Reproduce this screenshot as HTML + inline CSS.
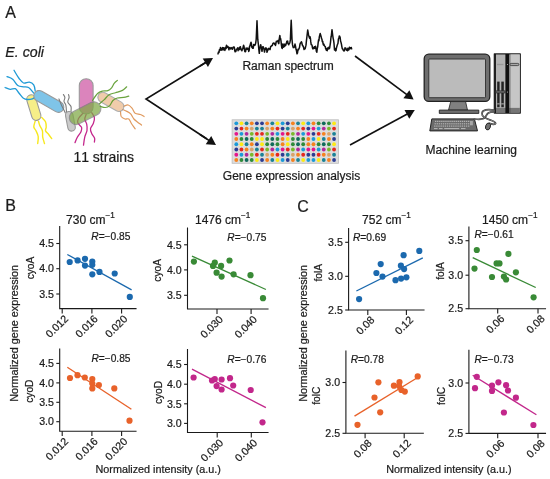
<!DOCTYPE html>
<html><head><meta charset="utf-8"><title>Figure</title>
<style>
html,body{margin:0;padding:0;background:#fff;}
body{width:550px;height:479px;overflow:hidden;}
svg{display:block;font-family:'Liberation Sans', Arial, sans-serif;}
text{stroke:#1c1c1c;stroke-width:0.22px;}
</style></head><body>
<svg width="550" height="479" viewBox="0 0 550 479">
<rect width="550" height="479" fill="#ffffff"/>
<text x="5.2" y="17.6" font-size="16" text-anchor="start" fill="#1c1c1c" >A</text>
<text x="5.3" y="211.1" font-size="16" text-anchor="start" fill="#1c1c1c" >B</text>
<text x="297.3" y="212.3" font-size="16" text-anchor="start" fill="#1c1c1c" >C</text>
<text x="5.3" y="57" font-size="14.2" text-anchor="start" font-style="italic" fill="#1c1c1c" >E. coli</text>
<text x="73.4" y="161.5" font-size="14" text-anchor="start" fill="#1c1c1c" style="font-kerning:none">11 strains</text>
<text x="242.4" y="69.5" font-size="12" text-anchor="start" fill="#1c1c1c" >Raman spectrum</text>
<text x="222.8" y="179.7" font-size="12" text-anchor="start" fill="#1c1c1c" >Gene expression analysis</text>
<text x="425.6" y="153.6" font-size="12" text-anchor="start" fill="#1c1c1c" >Machine learning</text>
<path d="M35.4,120.5 C35.1,121.6 33.7,125.2 33.8,126.9 C33.9,128.6 35.3,129.1 36.0,130.7 C36.7,132.3 37.9,134.4 38.2,136.5 C38.5,138.6 37.8,142.3 37.7,143.5" fill="none" stroke="#f7e81e" stroke-width="1.4" stroke-linecap="round" stroke-linejoin="round"/>
<path d="M38.5,121.2 C38.7,121.9 39.1,124.0 39.8,125.6 C40.4,127.2 41.9,128.8 42.4,130.7 C42.9,132.6 42.4,135.0 42.7,137.1 C43.1,139.2 44.2,142.4 44.5,143.5" fill="none" stroke="#f7e81e" stroke-width="1.4" stroke-linecap="round" stroke-linejoin="round"/>
<path d="M41.7,117.4 C42.3,118.1 44.8,120.2 45.5,121.8 C46.2,123.4 46.2,125.4 46.2,126.9 C46.2,128.4 45.1,129.4 45.5,130.7 C45.9,132.0 47.7,133.2 48.7,134.5 C49.7,135.8 51.2,137.9 51.7,138.6" fill="none" stroke="#f7e81e" stroke-width="1.4" stroke-linecap="round" stroke-linejoin="round"/>
<rect x="-13.10" y="-4.60" width="26.20" height="9.20" rx="4.60" ry="4.60" transform="translate(33.8,107.6) rotate(73)" fill="#f6ee88" fill-opacity="1" stroke="#9a9a9a" stroke-width="1.1"/>
<path d="M14.0,70.3 C14.8,71.7 17.5,76.4 19.1,78.5 C20.7,80.6 21.8,82.4 23.5,83.0 C25.2,83.6 27.6,81.8 29.3,82.1 C31.0,82.4 32.7,83.4 33.7,84.9 C34.7,86.4 35.0,90.0 35.2,91.0" fill="none" stroke="#1f9ad6" stroke-width="1.3" stroke-linecap="round" stroke-linejoin="round"/>
<path d="M7.0,76.6 C8.0,77.0 10.9,77.7 12.7,79.2 C14.5,80.7 16.0,84.2 17.8,85.5 C19.6,86.8 21.7,86.5 23.5,86.8 C25.3,87.1 26.9,86.5 28.6,87.5 C30.3,88.5 32.8,92.1 33.6,93.0" fill="none" stroke="#1f9ad6" stroke-width="1.3" stroke-linecap="round" stroke-linejoin="round"/>
<path d="M5.1,87.5 C5.9,87.8 8.5,89.2 10.2,89.4 C11.9,89.6 13.8,88.1 15.3,88.7 C16.8,89.3 17.7,91.6 19.1,93.2 C20.5,94.8 22.1,97.2 23.5,98.3 C24.9,99.3 25.9,99.4 27.4,99.5 C28.9,99.6 31.3,99.2 32.5,98.9 C33.7,98.6 34.2,97.7 34.5,97.5" fill="none" stroke="#1f9ad6" stroke-width="1.3" stroke-linecap="round" stroke-linejoin="round"/>
<rect x="-16.50" y="-5.40" width="33.00" height="10.80" rx="5.40" ry="5.40" transform="translate(48.8,101.4) rotate(30)" fill="#7fc4e8" fill-opacity="1" stroke="#9a9a9a" stroke-width="1.1"/>
<path d="M65.3,112.9 C64.8,111.8 63.0,108.3 62.1,106.5 C61.2,104.7 60.7,103.4 60.2,102.1 C59.7,100.8 59.1,99.4 58.9,98.9" fill="none" stroke="#7a7a7a" stroke-width="1.1" stroke-linecap="round" stroke-linejoin="round"/>
<path d="M66.5,112.3 C66.4,111.1 66.3,107.1 65.9,105.3 C65.5,103.5 64.2,102.8 64.0,101.5 C63.8,100.2 65.0,98.8 64.9,97.6 C64.8,96.4 63.6,95.0 63.4,94.5" fill="none" stroke="#7a7a7a" stroke-width="1.1" stroke-linecap="round" stroke-linejoin="round"/>
<path d="M71.0,111.6 C71.0,110.8 71.5,108.1 71.0,106.5 C70.5,104.9 68.1,103.6 67.8,102.1 C67.5,100.6 69.0,98.9 69.1,97.6 C69.2,96.3 68.6,95.0 68.5,94.5" fill="none" stroke="#7a7a7a" stroke-width="1.1" stroke-linecap="round" stroke-linejoin="round"/>
<rect x="-9.90" y="-3.75" width="19.80" height="7.50" rx="3.75" ry="3.75" transform="translate(70.4,121.3) rotate(79)" fill="#cbcbcb" fill-opacity="1" stroke="#9a9a9a" stroke-width="1.1"/>
<path d="M123.7,106.3 C124.5,106.1 126.8,104.7 128.2,105.0 C129.6,105.3 130.8,106.8 132.0,108.2 C133.2,109.6 133.8,112.2 135.2,113.3 C136.6,114.3 138.8,114.0 140.3,114.5 C141.8,115.0 143.5,116.2 144.1,116.5" fill="none" stroke="#e09a5e" stroke-width="1.2" stroke-linecap="round" stroke-linejoin="round"/>
<path d="M122.5,109.5 C123.2,109.8 125.5,110.7 126.9,111.4 C128.3,112.1 129.5,112.6 130.7,113.9 C131.9,115.2 132.7,117.6 133.9,119.0 C135.1,120.4 136.4,121.2 137.7,122.2 C139.0,123.2 140.9,124.5 141.5,125.0" fill="none" stroke="#e09a5e" stroke-width="1.2" stroke-linecap="round" stroke-linejoin="round"/>
<path d="M120.5,111.4 C120.6,112.2 120.5,115.2 121.2,116.5 C122.0,117.8 123.7,118.6 125.0,119.0 C126.3,119.4 127.7,118.2 128.8,119.0 C129.9,119.8 130.3,121.9 131.4,123.5 C132.5,125.1 134.6,127.9 135.2,128.8" fill="none" stroke="#e09a5e" stroke-width="1.2" stroke-linecap="round" stroke-linejoin="round"/>
<rect x="-17.60" y="-6.90" width="35.20" height="13.80" rx="6.90" ry="6.90" transform="translate(86.2,96.3) rotate(90)" fill="#db84bc" fill-opacity="1" stroke="#9a9a9a" stroke-width="1.1"/>
<path d="M82.9,113.4 C82.2,114.2 79.3,116.9 78.5,118.5 C77.7,120.1 77.3,121.4 77.8,122.9 C78.3,124.4 81.1,125.9 81.6,127.4 C82.1,128.9 81.7,130.1 81.0,131.8 C80.3,133.5 78.2,135.7 77.2,137.5 C76.2,139.3 75.4,141.8 75.0,142.6" fill="none" stroke="#c4268c" stroke-width="1.3" stroke-linecap="round" stroke-linejoin="round"/>
<path d="M86.1,114.6 C85.9,115.3 84.7,117.5 84.8,119.1 C84.9,120.7 86.3,122.3 86.7,124.2 C87.1,126.1 87.3,128.4 87.0,130.5 C86.7,132.6 85.4,134.5 84.8,136.9 C84.2,139.3 83.7,143.8 83.5,145.2" fill="none" stroke="#c4268c" stroke-width="1.3" stroke-linecap="round" stroke-linejoin="round"/>
<path d="M91.8,112.7 C92.2,113.5 94.2,116.0 94.4,117.8 C94.7,119.6 94.0,121.7 93.3,123.5 C92.6,125.3 90.8,126.9 90.5,128.6 C90.2,130.3 91.1,132.1 91.8,133.7 C92.5,135.3 94.2,136.8 94.6,138.2 C95.0,139.6 94.4,141.4 94.4,142.0" fill="none" stroke="#c4268c" stroke-width="1.3" stroke-linecap="round" stroke-linejoin="round"/>
<g opacity="0.72">
<rect x="-16.90" y="-6.80" width="33.80" height="13.60" rx="6.80" ry="6.80" transform="translate(85.1,113.2) rotate(-26.8)" fill="#7fa945" fill-opacity="1" stroke="#7a7a7a" stroke-width="1.1"/>
</g>
<g opacity="0.8">
<rect x="-14.20" y="-5.00" width="28.40" height="10.00" rx="5.00" ry="5.00" transform="translate(110.9,101.9) rotate(29.8)" fill="#edc097" fill-opacity="1" stroke="#9a9a9a" stroke-width="1.1"/>
</g>
<g opacity="0.9">
<path d="M92.5,100.5 C93.3,99.3 95.9,95.1 97.6,93.5 C99.3,91.9 101.0,91.5 102.7,91.0 C104.4,90.5 106.3,91.1 107.8,90.6 C109.3,90.1 110.5,89.0 111.6,87.8 C112.7,86.6 113.2,84.6 114.2,83.4 C115.2,82.2 116.9,80.9 117.4,80.4" fill="none" stroke="#5a9a2a" stroke-width="1.2" stroke-linecap="round" stroke-linejoin="round"/>
<path d="M99.5,103.7 C100.2,103.1 102.4,101.4 104.0,99.9 C105.6,98.4 107.2,96.0 109.1,94.8 C111.0,93.6 113.3,93.4 115.5,92.7 C117.7,92.0 120.6,91.4 122.5,90.4 C124.4,89.4 126.0,87.4 126.7,86.8" fill="none" stroke="#5a9a2a" stroke-width="1.2" stroke-linecap="round" stroke-linejoin="round"/>
<path d="M100.2,106.3 C101.0,106.5 103.7,107.6 105.3,107.5 C106.9,107.4 108.4,106.8 109.7,105.6 C111.0,104.4 111.6,101.8 112.9,100.5 C114.2,99.2 115.6,98.5 117.4,98.0 C119.2,97.5 121.8,97.7 123.7,97.4 C125.6,97.1 128.0,96.3 128.8,96.1" fill="none" stroke="#5a9a2a" stroke-width="1.2" stroke-linecap="round" stroke-linejoin="round"/>
</g>
<path d="M 206.6,62 L146,99 L 207,139" fill="none" stroke="#111" stroke-width="1.6" stroke-linejoin="miter"/>
<line x1="200" y1="66" x2="206.19" y2="62.19" stroke="#111" stroke-width="1.6"/>
<polygon points="213.00,58.00 207.96,66.98 202.71,58.46" fill="#111"/>
<line x1="200" y1="134.5" x2="209.31" y2="140.61" stroke="#111" stroke-width="1.6"/>
<polygon points="216.00,145.00 205.73,144.24 211.22,135.88" fill="#111"/>
<line x1="355" y1="56" x2="407.18" y2="94.82" stroke="#111" stroke-width="1.6"/>
<polygon points="413.60,99.60 403.39,98.24 409.36,90.22" fill="#111"/>
<line x1="350" y1="145" x2="407.76" y2="113.80" stroke="#111" stroke-width="1.6"/>
<polygon points="414.80,110.00 409.26,118.68 404.51,109.88" fill="#111"/>
<path d="M218.00,53.90 L218.50,52.06 L219.00,52.51 L219.38,49.80 L219.75,50.62 L220.12,49.29 L220.50,47.50 L221.00,50.03 L221.50,49.43 L221.88,50.12 L222.25,48.24 L222.62,47.66 L223.00,48.14 L223.38,49.79 L223.75,47.67 L224.12,48.28 L224.50,49.93 L224.88,50.40 L225.25,48.51 L225.62,47.27 L226.00,48.62 L226.50,45.16 L227.00,47.62 L227.40,46.33 L227.80,46.49 L228.20,47.05 L228.60,48.35 L228.95,49.82 L229.30,47.41 L229.65,48.53 L230.00,48.47 L230.38,47.94 L230.75,48.91 L231.12,47.64 L231.50,48.00 L231.92,48.08 L232.33,49.28 L232.75,48.00 L233.17,47.20 L233.58,47.71 L234.00,46.84 L234.38,47.69 L234.75,50.75 L235.12,51.80 L235.50,51.63 L235.93,51.15 L236.37,49.39 L236.80,48.98 L237.23,48.93 L237.65,47.88 L238.07,50.68 L238.50,48.20 L238.88,48.85 L239.25,49.62 L239.62,47.19 L240.00,47.96 L240.38,46.73 L240.77,49.17 L241.15,49.80 L241.53,49.45 L241.92,50.78 L242.30,49.17 L242.73,48.86 L243.17,46.92 L243.60,45.27 L244.03,46.55 L244.45,49.56 L244.88,51.61 L245.30,51.71 L245.70,51.26 L246.10,48.11 L246.50,49.19 L246.90,48.50 L247.30,49.18 L247.70,48.09 L248.20,48.67 L248.70,51.41 L249.13,50.44 L249.57,46.31 L250.00,45.87 L250.50,43.67 L251.00,42.30 L251.38,43.45 L251.75,47.21 L252.12,46.39 L252.50,48.14 L252.88,47.63 L253.25,48.26 L253.62,44.57 L254.00,44.83 L254.40,44.70 L254.80,45.37 L255.20,44.69 L255.70,43.04 L256.20,39.25 L256.60,30.35 L257.00,20.70 L257.40,30.35 L257.80,39.71 L258.40,44.52 L258.85,49.71 L259.30,53.36 L259.77,48.58 L260.23,46.63 L260.70,44.79 L261.13,46.56 L261.57,49.18 L262.00,51.30 L262.40,48.86 L262.80,46.65 L263.20,46.72 L263.63,47.72 L264.07,49.56 L264.50,52.04 L264.93,50.15 L265.37,48.55 L265.80,47.90 L266.20,49.27 L266.60,48.32 L267.00,52.36 L267.43,50.95 L267.87,50.27 L268.30,49.01 L268.73,48.30 L269.17,48.99 L269.60,48.65 L270.07,49.69 L270.53,46.98 L271.00,46.23 L271.43,46.14 L271.87,45.42 L272.30,45.46 L272.73,43.91 L273.17,43.17 L273.60,43.11 L274.07,43.18 L274.53,44.30 L275.00,43.39 L275.43,45.44 L275.87,43.72 L276.30,41.31 L276.77,41.36 L277.23,41.38 L277.70,41.14 L278.07,40.45 L278.43,43.05 L278.80,43.68 L279.30,38.63 L279.80,35.50 L280.20,37.71 L280.60,38.63 L281.00,40.95 L281.40,44.81 L281.80,47.60 L282.20,48.55 L282.60,45.32 L283.00,43.88 L283.38,47.26 L283.75,46.05 L284.12,44.97 L284.50,46.55 L284.88,43.94 L285.25,44.80 L285.62,45.48 L286.00,44.24 L286.43,43.20 L286.87,41.25 L287.30,41.15 L287.67,41.10 L288.03,43.79 L288.40,43.61 L288.77,44.72 L289.13,43.45 L289.50,43.36 L289.95,42.21 L290.40,39.65 L290.80,29.10 L291.20,20.20 L291.60,29.10 L292.00,39.20 L292.50,44.64 L292.87,46.28 L293.23,47.62 L293.60,47.47 L294.07,47.56 L294.53,46.11 L295.00,44.10 L295.50,46.24 L296.00,49.25 L296.50,50.78 L297.00,53.85 L297.50,52.90 L298.00,49.32 L298.50,49.74 L299.00,48.66 L299.47,47.55 L299.93,44.54 L300.40,43.05 L300.75,42.65 L301.10,42.12 L301.45,41.72 L301.80,42.72 L302.27,44.89 L302.73,45.92 L303.20,45.93 L303.63,47.79 L304.07,49.55 L304.50,48.39 L304.88,48.97 L305.25,48.44 L305.62,46.63 L306.00,45.15 L306.50,40.08 L307.00,36.00 L307.35,33.00 L307.70,30.00 L308.13,32.50 L308.57,35.00 L309.00,36.41 L309.50,38.13 L310.00,36.80 L310.40,38.28 L310.80,41.92 L311.20,44.55 L311.60,44.65 L312.05,45.41 L312.50,48.02 L312.95,48.91 L313.40,48.68 L313.83,47.60 L314.27,46.75 L314.70,48.38 L315.13,48.28 L315.57,46.26 L316.00,48.81 L316.40,51.38 L316.80,52.33 L317.27,48.56 L317.73,46.50 L318.20,42.35 L318.57,39.75 L318.93,40.80 L319.30,37.00 L319.75,35.20 L320.20,33.40 L320.70,35.20 L321.20,37.00 L321.57,38.58 L321.93,39.22 L322.30,41.67 L322.70,41.21 L323.10,43.94 L323.50,45.03 L323.90,44.18 L324.30,45.56 L324.80,46.25 L325.30,46.62 L325.67,48.79 L326.03,48.68 L326.40,50.22 L326.80,48.62 L327.20,50.64 L327.60,48.13 L328.00,47.86 L328.36,48.08 L328.72,48.97 L329.08,47.13 L329.44,48.62 L329.80,47.01 L330.17,44.61 L330.53,42.08 L330.90,37.86 L331.27,36.23 L331.63,32.97 L332.00,29.70 L332.40,32.85 L332.80,36.00 L333.15,38.30 L333.50,39.92 L334.00,43.31 L334.50,50.02 L334.88,48.26 L335.25,49.66 L335.62,50.89 L336.00,50.69 L336.50,47.66 L337.00,46.06 L337.50,44.34 L338.00,43.27 L338.43,38.86 L338.87,38.31 L339.30,36.00 L339.75,36.39 L340.20,37.74 L340.60,41.33 L341.00,42.33 L341.43,44.18 L341.85,46.53 L342.27,48.73 L342.70,48.81 L343.13,50.05 L343.57,50.35 L344.00,51.04 L344.50,50.16 L345.00,47.84 L345.50,48.31 L346.00,48.33 L346.38,50.13 L346.75,49.53 L347.12,50.36 L347.50,50.80 L347.88,48.23 L348.25,49.00 L348.62,50.06 L349.00,49.46 L349.38,47.29 L349.75,47.46 L350.12,48.78 L350.50,47.75 L350.87,48.18 L351.23,47.48 L351.60,48.80" fill="none" stroke="#111" stroke-width="1.5" stroke-linejoin="round" stroke-linecap="round"/>
<rect x="232.1" y="119.8" width="106.4" height="43.5" fill="#dddddd" stroke="#bcbcbc" stroke-width="0.8"/>
<circle cx="236.30" cy="123.30" r="1.9" fill="#1b9ad8"/>
<circle cx="241.45" cy="123.30" r="1.9" fill="#fdea14"/>
<circle cx="246.59" cy="123.30" r="1.9" fill="#1a8296"/>
<circle cx="251.74" cy="123.30" r="1.9" fill="#f5821f"/>
<circle cx="256.88" cy="123.30" r="1.9" fill="#2c3c93"/>
<circle cx="262.03" cy="123.30" r="1.9" fill="#2c3c93"/>
<circle cx="267.17" cy="123.30" r="1.9" fill="#f5821f"/>
<circle cx="272.31" cy="123.30" r="1.9" fill="#1a8296"/>
<circle cx="277.46" cy="123.30" r="1.9" fill="#fdea14"/>
<circle cx="282.61" cy="123.30" r="1.9" fill="#1b9ad8"/>
<circle cx="287.75" cy="123.30" r="1.9" fill="#2c3c93"/>
<circle cx="292.89" cy="123.30" r="1.9" fill="#f5821f"/>
<circle cx="298.04" cy="123.30" r="1.9" fill="#1a8296"/>
<circle cx="303.19" cy="123.30" r="1.9" fill="#fdea14"/>
<circle cx="308.33" cy="123.30" r="1.9" fill="#1b9ad8"/>
<circle cx="313.48" cy="123.30" r="1.9" fill="#f5821f"/>
<circle cx="318.62" cy="123.30" r="1.9" fill="#2e8b3a"/>
<circle cx="323.76" cy="123.30" r="1.9" fill="#106b5a"/>
<circle cx="328.91" cy="123.30" r="1.9" fill="#2e8b3a"/>
<circle cx="334.06" cy="123.30" r="1.9" fill="#fdea14"/>
<circle cx="236.30" cy="128.54" r="1.9" fill="#2c3c93"/>
<circle cx="241.45" cy="128.54" r="1.9" fill="#e6281e"/>
<circle cx="246.59" cy="128.54" r="1.9" fill="#f5821f"/>
<circle cx="251.74" cy="128.54" r="1.9" fill="#d9a36a"/>
<circle cx="256.88" cy="128.54" r="1.9" fill="#1a8296"/>
<circle cx="262.03" cy="128.54" r="1.9" fill="#1a8296"/>
<circle cx="267.17" cy="128.54" r="1.9" fill="#d9a36a"/>
<circle cx="272.31" cy="128.54" r="1.9" fill="#f5821f"/>
<circle cx="277.46" cy="128.54" r="1.9" fill="#e6281e"/>
<circle cx="282.61" cy="128.54" r="1.9" fill="#2c3c93"/>
<circle cx="287.75" cy="128.54" r="1.9" fill="#1a8296"/>
<circle cx="292.89" cy="128.54" r="1.9" fill="#d9a36a"/>
<circle cx="298.04" cy="128.54" r="1.9" fill="#f5821f"/>
<circle cx="303.19" cy="128.54" r="1.9" fill="#e6281e"/>
<circle cx="308.33" cy="128.54" r="1.9" fill="#2c3c93"/>
<circle cx="313.48" cy="128.54" r="1.9" fill="#e5168c"/>
<circle cx="318.62" cy="128.54" r="1.9" fill="#1b9ad8"/>
<circle cx="323.76" cy="128.54" r="1.9" fill="#b1289b"/>
<circle cx="328.91" cy="128.54" r="1.9" fill="#7ab82b"/>
<circle cx="334.06" cy="128.54" r="1.9" fill="#e6281e"/>
<circle cx="236.30" cy="133.78" r="1.9" fill="#e5168c"/>
<circle cx="241.45" cy="133.78" r="1.9" fill="#1b9ad8"/>
<circle cx="246.59" cy="133.78" r="1.9" fill="#b1289b"/>
<circle cx="251.74" cy="133.78" r="1.9" fill="#7ab82b"/>
<circle cx="256.88" cy="133.78" r="1.9" fill="#e6281e"/>
<circle cx="262.03" cy="133.78" r="1.9" fill="#e6281e"/>
<circle cx="267.17" cy="133.78" r="1.9" fill="#7ab82b"/>
<circle cx="272.31" cy="133.78" r="1.9" fill="#b1289b"/>
<circle cx="277.46" cy="133.78" r="1.9" fill="#1b9ad8"/>
<circle cx="282.61" cy="133.78" r="1.9" fill="#e5168c"/>
<circle cx="287.75" cy="133.78" r="1.9" fill="#e6281e"/>
<circle cx="292.89" cy="133.78" r="1.9" fill="#7ab82b"/>
<circle cx="298.04" cy="133.78" r="1.9" fill="#b1289b"/>
<circle cx="303.19" cy="133.78" r="1.9" fill="#1b9ad8"/>
<circle cx="308.33" cy="133.78" r="1.9" fill="#e5168c"/>
<circle cx="313.48" cy="133.78" r="1.9" fill="#2c3c93"/>
<circle cx="318.62" cy="133.78" r="1.9" fill="#e6281e"/>
<circle cx="323.76" cy="133.78" r="1.9" fill="#f5821f"/>
<circle cx="328.91" cy="133.78" r="1.9" fill="#d9a36a"/>
<circle cx="334.06" cy="133.78" r="1.9" fill="#1a8296"/>
<circle cx="236.30" cy="139.02" r="1.9" fill="#f5821f"/>
<circle cx="241.45" cy="139.02" r="1.9" fill="#2e8b3a"/>
<circle cx="246.59" cy="139.02" r="1.9" fill="#106b5a"/>
<circle cx="251.74" cy="139.02" r="1.9" fill="#2e8b3a"/>
<circle cx="256.88" cy="139.02" r="1.9" fill="#fdea14"/>
<circle cx="262.03" cy="139.02" r="1.9" fill="#fdea14"/>
<circle cx="267.17" cy="139.02" r="1.9" fill="#2e8b3a"/>
<circle cx="272.31" cy="139.02" r="1.9" fill="#106b5a"/>
<circle cx="277.46" cy="139.02" r="1.9" fill="#2e8b3a"/>
<circle cx="282.61" cy="139.02" r="1.9" fill="#f5821f"/>
<circle cx="287.75" cy="139.02" r="1.9" fill="#fdea14"/>
<circle cx="292.89" cy="139.02" r="1.9" fill="#2e8b3a"/>
<circle cx="298.04" cy="139.02" r="1.9" fill="#106b5a"/>
<circle cx="303.19" cy="139.02" r="1.9" fill="#2e8b3a"/>
<circle cx="308.33" cy="139.02" r="1.9" fill="#f5821f"/>
<circle cx="313.48" cy="139.02" r="1.9" fill="#1b9ad8"/>
<circle cx="318.62" cy="139.02" r="1.9" fill="#fdea14"/>
<circle cx="323.76" cy="139.02" r="1.9" fill="#1a8296"/>
<circle cx="328.91" cy="139.02" r="1.9" fill="#f5821f"/>
<circle cx="334.06" cy="139.02" r="1.9" fill="#2c3c93"/>
<circle cx="236.30" cy="144.26" r="1.9" fill="#1b9ad8"/>
<circle cx="241.45" cy="144.26" r="1.9" fill="#fdea14"/>
<circle cx="246.59" cy="144.26" r="1.9" fill="#1a8296"/>
<circle cx="251.74" cy="144.26" r="1.9" fill="#f5821f"/>
<circle cx="256.88" cy="144.26" r="1.9" fill="#2c3c93"/>
<circle cx="262.03" cy="144.26" r="1.9" fill="#fdea14"/>
<circle cx="267.17" cy="144.26" r="1.9" fill="#2e8b3a"/>
<circle cx="272.31" cy="144.26" r="1.9" fill="#106b5a"/>
<circle cx="277.46" cy="144.26" r="1.9" fill="#2e8b3a"/>
<circle cx="282.61" cy="144.26" r="1.9" fill="#f5821f"/>
<circle cx="287.75" cy="144.26" r="1.9" fill="#fdea14"/>
<circle cx="292.89" cy="144.26" r="1.9" fill="#2e8b3a"/>
<circle cx="298.04" cy="144.26" r="1.9" fill="#106b5a"/>
<circle cx="303.19" cy="144.26" r="1.9" fill="#2e8b3a"/>
<circle cx="308.33" cy="144.26" r="1.9" fill="#f5821f"/>
<circle cx="313.48" cy="144.26" r="1.9" fill="#f5821f"/>
<circle cx="318.62" cy="144.26" r="1.9" fill="#2e8b3a"/>
<circle cx="323.76" cy="144.26" r="1.9" fill="#106b5a"/>
<circle cx="328.91" cy="144.26" r="1.9" fill="#2e8b3a"/>
<circle cx="334.06" cy="144.26" r="1.9" fill="#fdea14"/>
<circle cx="236.30" cy="149.50" r="1.9" fill="#2c3c93"/>
<circle cx="241.45" cy="149.50" r="1.9" fill="#e6281e"/>
<circle cx="246.59" cy="149.50" r="1.9" fill="#f5821f"/>
<circle cx="251.74" cy="149.50" r="1.9" fill="#d9a36a"/>
<circle cx="256.88" cy="149.50" r="1.9" fill="#1a8296"/>
<circle cx="262.03" cy="149.50" r="1.9" fill="#e6281e"/>
<circle cx="267.17" cy="149.50" r="1.9" fill="#7ab82b"/>
<circle cx="272.31" cy="149.50" r="1.9" fill="#b1289b"/>
<circle cx="277.46" cy="149.50" r="1.9" fill="#1b9ad8"/>
<circle cx="282.61" cy="149.50" r="1.9" fill="#e5168c"/>
<circle cx="287.75" cy="149.50" r="1.9" fill="#e6281e"/>
<circle cx="292.89" cy="149.50" r="1.9" fill="#7ab82b"/>
<circle cx="298.04" cy="149.50" r="1.9" fill="#b1289b"/>
<circle cx="303.19" cy="149.50" r="1.9" fill="#1b9ad8"/>
<circle cx="308.33" cy="149.50" r="1.9" fill="#e5168c"/>
<circle cx="313.48" cy="149.50" r="1.9" fill="#e5168c"/>
<circle cx="318.62" cy="149.50" r="1.9" fill="#1b9ad8"/>
<circle cx="323.76" cy="149.50" r="1.9" fill="#b1289b"/>
<circle cx="328.91" cy="149.50" r="1.9" fill="#7ab82b"/>
<circle cx="334.06" cy="149.50" r="1.9" fill="#e6281e"/>
<circle cx="236.30" cy="154.74" r="1.9" fill="#e5168c"/>
<circle cx="241.45" cy="154.74" r="1.9" fill="#1b9ad8"/>
<circle cx="246.59" cy="154.74" r="1.9" fill="#b1289b"/>
<circle cx="251.74" cy="154.74" r="1.9" fill="#7ab82b"/>
<circle cx="256.88" cy="154.74" r="1.9" fill="#e6281e"/>
<circle cx="262.03" cy="154.74" r="1.9" fill="#1a8296"/>
<circle cx="267.17" cy="154.74" r="1.9" fill="#d9a36a"/>
<circle cx="272.31" cy="154.74" r="1.9" fill="#f5821f"/>
<circle cx="277.46" cy="154.74" r="1.9" fill="#e6281e"/>
<circle cx="282.61" cy="154.74" r="1.9" fill="#2c3c93"/>
<circle cx="287.75" cy="154.74" r="1.9" fill="#1a8296"/>
<circle cx="292.89" cy="154.74" r="1.9" fill="#d9a36a"/>
<circle cx="298.04" cy="154.74" r="1.9" fill="#f5821f"/>
<circle cx="303.19" cy="154.74" r="1.9" fill="#e6281e"/>
<circle cx="308.33" cy="154.74" r="1.9" fill="#2c3c93"/>
<circle cx="313.48" cy="154.74" r="1.9" fill="#2c3c93"/>
<circle cx="318.62" cy="154.74" r="1.9" fill="#e6281e"/>
<circle cx="323.76" cy="154.74" r="1.9" fill="#f5821f"/>
<circle cx="328.91" cy="154.74" r="1.9" fill="#d9a36a"/>
<circle cx="334.06" cy="154.74" r="1.9" fill="#1a8296"/>
<circle cx="236.30" cy="159.98" r="1.9" fill="#f5821f"/>
<circle cx="241.45" cy="159.98" r="1.9" fill="#2e8b3a"/>
<circle cx="246.59" cy="159.98" r="1.9" fill="#106b5a"/>
<circle cx="251.74" cy="159.98" r="1.9" fill="#2e8b3a"/>
<circle cx="256.88" cy="159.98" r="1.9" fill="#fdea14"/>
<circle cx="262.03" cy="159.98" r="1.9" fill="#2c3c93"/>
<circle cx="267.17" cy="159.98" r="1.9" fill="#f5821f"/>
<circle cx="272.31" cy="159.98" r="1.9" fill="#1a8296"/>
<circle cx="277.46" cy="159.98" r="1.9" fill="#fdea14"/>
<circle cx="282.61" cy="159.98" r="1.9" fill="#1b9ad8"/>
<circle cx="287.75" cy="159.98" r="1.9" fill="#2c3c93"/>
<circle cx="292.89" cy="159.98" r="1.9" fill="#f5821f"/>
<circle cx="298.04" cy="159.98" r="1.9" fill="#1a8296"/>
<circle cx="303.19" cy="159.98" r="1.9" fill="#fdea14"/>
<circle cx="308.33" cy="159.98" r="1.9" fill="#1b9ad8"/>
<circle cx="313.48" cy="159.98" r="1.9" fill="#1b9ad8"/>
<circle cx="318.62" cy="159.98" r="1.9" fill="#fdea14"/>
<circle cx="323.76" cy="159.98" r="1.9" fill="#1a8296"/>
<circle cx="328.91" cy="159.98" r="1.9" fill="#f5821f"/>
<circle cx="334.06" cy="159.98" r="1.9" fill="#2c3c93"/>
<g stroke="#222" stroke-width="1.1" stroke-linejoin="round">
<rect x="424.2" y="54.2" width="65.6" height="47.2" rx="4.6" ry="4.6" fill="#6e6e6e" stroke-width="1.3"/>
<rect x="428.8" y="59" width="56.7" height="38.7" rx="0.8" fill="#bbbbbb" stroke="#2e2e2e" stroke-width="0.9"/>
<polygon points="450.7,101.6 465.6,101.6 467.5,110.1 448.5,110.1" fill="#808080" stroke-width="0.8"/>
<rect x="439.3" y="110.1" width="39.5" height="3.3" fill="#6e6e6e" stroke-width="0.9"/>
<rect x="494.3" y="53.9" width="26" height="59.2" fill="#b4b4b4" stroke-width="1.2"/>
<rect x="510.2" y="54.4" width="9.6" height="53.5" fill="#c6c6c6" stroke="none"/>
<rect x="494.9" y="107.9" width="24.8" height="4.7" fill="#757575" stroke="none"/>
<rect x="505.4" y="54" width="3.6" height="59" fill="#111" stroke="none"/>
<line x1="509.9" y1="54" x2="509.9" y2="113" stroke="#333" stroke-width="0.6"/>
<line x1="495.2" y1="54" x2="495.2" y2="113" stroke="#111" stroke-width="1.4"/>
<rect x="497.2" y="81.6" width="2.4" height="25.6" fill="#222" stroke="none"/>
<rect x="501.3" y="81.6" width="2.5" height="25.6" fill="#222" stroke="none"/>
<rect x="497.2" y="103.5" width="2.4" height="0.8" fill="#ddd" stroke="none"/>
<rect x="501.3" y="103.5" width="2.5" height="0.8" fill="#ddd" stroke="none"/>
<rect x="495.6" y="90.8" width="9.6" height="2.2" fill="#6a6a6a" stroke-width="0.6"/>
<rect x="497" y="63.8" width="6.5" height="1.4" fill="#999" stroke="none"/>
<rect x="510" y="63.4" width="8.9" height="2.2" rx="1.1" fill="#a8a8a8" stroke-width="0.7"/>
<circle cx="507.4" cy="64.4" r="0.5" fill="#ddd" stroke="none"/>
<circle cx="507.4" cy="91.9" r="0.5" fill="#ddd" stroke="none"/>
<polygon points="431.8,118.9 474.4,118.9 477.5,130.9 429.8,130.9" fill="#6a6a6a" stroke-width="1"/>
</g>
<rect x="435.00" y="120.80" width="1.35" height="1.2" fill="#b2b2b2"/>
<rect x="437.06" y="120.80" width="1.35" height="1.2" fill="#b2b2b2"/>
<rect x="439.12" y="120.80" width="1.35" height="1.2" fill="#b2b2b2"/>
<rect x="441.18" y="120.80" width="1.35" height="1.2" fill="#b2b2b2"/>
<rect x="443.24" y="120.80" width="1.35" height="1.2" fill="#b2b2b2"/>
<rect x="445.30" y="120.80" width="1.35" height="1.2" fill="#b2b2b2"/>
<rect x="447.36" y="120.80" width="1.35" height="1.2" fill="#b2b2b2"/>
<rect x="449.42" y="120.80" width="1.35" height="1.2" fill="#b2b2b2"/>
<rect x="451.48" y="120.80" width="1.35" height="1.2" fill="#b2b2b2"/>
<rect x="453.54" y="120.80" width="1.35" height="1.2" fill="#b2b2b2"/>
<rect x="455.60" y="120.80" width="1.35" height="1.2" fill="#b2b2b2"/>
<rect x="457.66" y="120.80" width="1.35" height="1.2" fill="#b2b2b2"/>
<rect x="459.72" y="120.80" width="1.35" height="1.2" fill="#b2b2b2"/>
<rect x="461.78" y="120.80" width="1.35" height="1.2" fill="#b2b2b2"/>
<rect x="463.84" y="120.80" width="1.35" height="1.2" fill="#b2b2b2"/>
<rect x="465.90" y="120.80" width="1.35" height="1.2" fill="#b2b2b2"/>
<rect x="467.96" y="120.80" width="1.35" height="1.2" fill="#b2b2b2"/>
<rect x="434.55" y="123.20" width="1.35" height="1.2" fill="#b2b2b2"/>
<rect x="436.64" y="123.20" width="1.35" height="1.2" fill="#b2b2b2"/>
<rect x="438.73" y="123.20" width="1.35" height="1.2" fill="#b2b2b2"/>
<rect x="440.82" y="123.20" width="1.35" height="1.2" fill="#b2b2b2"/>
<rect x="442.91" y="123.20" width="1.35" height="1.2" fill="#b2b2b2"/>
<rect x="445.00" y="123.20" width="1.35" height="1.2" fill="#b2b2b2"/>
<rect x="447.09" y="123.20" width="1.35" height="1.2" fill="#b2b2b2"/>
<rect x="449.18" y="123.20" width="1.35" height="1.2" fill="#b2b2b2"/>
<rect x="451.27" y="123.20" width="1.35" height="1.2" fill="#b2b2b2"/>
<rect x="453.36" y="123.20" width="1.35" height="1.2" fill="#b2b2b2"/>
<rect x="455.45" y="123.20" width="1.35" height="1.2" fill="#b2b2b2"/>
<rect x="457.54" y="123.20" width="1.35" height="1.2" fill="#b2b2b2"/>
<rect x="459.63" y="123.20" width="1.35" height="1.2" fill="#b2b2b2"/>
<rect x="461.72" y="123.20" width="1.35" height="1.2" fill="#b2b2b2"/>
<rect x="463.81" y="123.20" width="1.35" height="1.2" fill="#b2b2b2"/>
<rect x="465.90" y="123.20" width="1.35" height="1.2" fill="#b2b2b2"/>
<rect x="467.99" y="123.20" width="1.35" height="1.2" fill="#b2b2b2"/>
<rect x="434.10" y="125.50" width="1.35" height="1.2" fill="#b2b2b2"/>
<rect x="436.22" y="125.50" width="1.35" height="1.2" fill="#b2b2b2"/>
<rect x="438.34" y="125.50" width="1.35" height="1.2" fill="#b2b2b2"/>
<rect x="440.46" y="125.50" width="1.35" height="1.2" fill="#b2b2b2"/>
<rect x="442.58" y="125.50" width="1.35" height="1.2" fill="#b2b2b2"/>
<rect x="444.70" y="125.50" width="1.35" height="1.2" fill="#b2b2b2"/>
<rect x="446.82" y="125.50" width="1.35" height="1.2" fill="#b2b2b2"/>
<rect x="448.94" y="125.50" width="1.35" height="1.2" fill="#b2b2b2"/>
<rect x="451.06" y="125.50" width="1.35" height="1.2" fill="#b2b2b2"/>
<rect x="453.18" y="125.50" width="1.35" height="1.2" fill="#b2b2b2"/>
<rect x="455.30" y="125.50" width="1.35" height="1.2" fill="#b2b2b2"/>
<rect x="457.42" y="125.50" width="1.35" height="1.2" fill="#b2b2b2"/>
<rect x="459.54" y="125.50" width="1.35" height="1.2" fill="#b2b2b2"/>
<rect x="461.66" y="125.50" width="1.35" height="1.2" fill="#b2b2b2"/>
<rect x="463.78" y="125.50" width="1.35" height="1.2" fill="#b2b2b2"/>
<rect x="465.90" y="125.50" width="1.35" height="1.2" fill="#b2b2b2"/>
<rect x="468.02" y="125.50" width="1.35" height="1.2" fill="#b2b2b2"/>
<rect x="470" y="121" width="2.9" height="4.3" fill="#a6a6a6"/>
<rect x="434" y="128" width="3.6" height="1.1" fill="#b2b2b2"/><rect x="439" y="128" width="3.6" height="1.1" fill="#b2b2b2"/><rect x="444.2" y="128" width="15" height="1.1" fill="#b2b2b2"/><rect x="461" y="128" width="4.5" height="1.1" fill="#b2b2b2"/>
<path d="M474.6,119.2 C479,119.2 483.5,120 485.3,117.3 C487,114.6 487,111.8 494.3,111.9" fill="none" stroke="#222" stroke-width="1.7" stroke-linecap="round"/>
<path d="M474.6,119.2 C479,119.2 483.5,120 485.3,117.3 C487,114.6 487,111.8 494.3,111.9" fill="none" stroke="#d0d0d0" stroke-width="0.55" stroke-linecap="round"/>
<path d="M494.3,110.2 C488,109 482.2,109.5 482,113.6 C481.8,117.5 487,119 491,120.3 C495,121.6 497,123.5 494.5,124.3 C492.5,124.8 490.5,123.6 489.3,123.2" fill="none" stroke="#222" stroke-width="1.7" stroke-linecap="round"/>
<path d="M494.3,110.2 C488,109 482.2,109.5 482,113.6 C481.8,117.5 487,119 491,120.3 C495,121.6 497,123.5 494.5,124.3 C492.5,124.8 490.5,123.6 489.3,123.2" fill="none" stroke="#d0d0d0" stroke-width="0.55" stroke-linecap="round"/>
<ellipse cx="488" cy="126.5" rx="2.4" ry="3.5" transform="rotate(18 488 126.5)" fill="#707070" stroke="#222" stroke-width="0.9"/>
<path d="M59.7,226.6 L59.7,308.6 L136,308.6" fill="none" stroke="#1a1a1a" stroke-width="1.1" stroke-linecap="square"/>
<line x1="56.300000000000004" y1="243.5" x2="59.7" y2="243.5" stroke="#1a1a1a" stroke-width="1.1"/>
<text x="53.900000000000006" y="247.2" font-size="10.6" text-anchor="end" fill="#1c1c1c" >4.5</text>
<line x1="56.300000000000004" y1="268.7" x2="59.7" y2="268.7" stroke="#1a1a1a" stroke-width="1.1"/>
<text x="53.900000000000006" y="272.4" font-size="10.6" text-anchor="end" fill="#1c1c1c" >4.0</text>
<line x1="56.300000000000004" y1="294" x2="59.7" y2="294" stroke="#1a1a1a" stroke-width="1.1"/>
<text x="53.900000000000006" y="297.7" font-size="10.6" text-anchor="end" fill="#1c1c1c" >3.5</text>
<line x1="62.2" y1="308.6" x2="62.2" y2="313.5" stroke="#1a1a1a" stroke-width="1.1"/>
<text transform="translate(68.80,319.60) rotate(-45)" font-size="10.6" text-anchor="end" fill="#1c1c1c">0.012</text>
<line x1="91.9" y1="308.6" x2="91.9" y2="313.5" stroke="#1a1a1a" stroke-width="1.1"/>
<text transform="translate(98.50,319.60) rotate(-45)" font-size="10.6" text-anchor="end" fill="#1c1c1c">0.016</text>
<line x1="121.6" y1="308.6" x2="121.6" y2="313.5" stroke="#1a1a1a" stroke-width="1.1"/>
<text transform="translate(128.20,319.60) rotate(-45)" font-size="10.6" text-anchor="end" fill="#1c1c1c">0.020</text>
<line x1="67.3" y1="254.5" x2="131.6" y2="289.9" stroke="#1b69ae" stroke-width="1.35"/>
<circle cx="69.7" cy="262" r="3.1" fill="#1b69ae"/>
<circle cx="77.6" cy="260.4" r="3.1" fill="#1b69ae"/>
<circle cx="85" cy="258.8" r="3.1" fill="#1b69ae"/>
<circle cx="85" cy="265.6" r="3.1" fill="#1b69ae"/>
<circle cx="92.3" cy="261.6" r="3.1" fill="#1b69ae"/>
<circle cx="92.3" cy="264.8" r="3.1" fill="#1b69ae"/>
<circle cx="92.3" cy="274.3" r="3.1" fill="#1b69ae"/>
<circle cx="99.5" cy="271.9" r="3.1" fill="#1b69ae"/>
<circle cx="114.7" cy="273.5" r="3.1" fill="#1b69ae"/>
<circle cx="129.8" cy="296.9" r="3.1" fill="#1b69ae"/>
<text x="91.3" y="239.5" font-size="10.2" fill="#1c1c1c"><tspan font-style="italic">R</tspan>=−0.85</text>
<text x="66.1" y="223.9" font-size="12" fill="#1c1c1c">730 cm<tspan font-size="8.2" dy="-6.0">−1</tspan></text>
<text transform="translate(34.0,268) rotate(-90)" font-size="10.2" text-anchor="middle" fill="#1c1c1c">cyoA</text>
<path d="M187.5,228 L187.5,309 L268,309" fill="none" stroke="#1a1a1a" stroke-width="1.1" stroke-linecap="square"/>
<line x1="184.1" y1="244.8" x2="187.5" y2="244.8" stroke="#1a1a1a" stroke-width="1.1"/>
<text x="181.7" y="248.5" font-size="10.6" text-anchor="end" fill="#1c1c1c" >4.5</text>
<line x1="184.1" y1="269.9" x2="187.5" y2="269.9" stroke="#1a1a1a" stroke-width="1.1"/>
<text x="181.7" y="273.59999999999997" font-size="10.6" text-anchor="end" fill="#1c1c1c" >4.0</text>
<line x1="184.1" y1="295.3" x2="187.5" y2="295.3" stroke="#1a1a1a" stroke-width="1.1"/>
<text x="181.7" y="299.0" font-size="10.6" text-anchor="end" fill="#1c1c1c" >3.5</text>
<line x1="217" y1="309" x2="217" y2="313.9" stroke="#1a1a1a" stroke-width="1.1"/>
<text transform="translate(223.60,320.00) rotate(-45)" font-size="10.6" text-anchor="end" fill="#1c1c1c">0.030</text>
<line x1="251.1" y1="309" x2="251.1" y2="313.9" stroke="#1a1a1a" stroke-width="1.1"/>
<text transform="translate(257.70,320.00) rotate(-45)" font-size="10.6" text-anchor="end" fill="#1c1c1c">0.040</text>
<line x1="192" y1="256.1" x2="265.9" y2="289.5" stroke="#398a36" stroke-width="1.35"/>
<circle cx="193.9" cy="261.6" r="3.1" fill="#398a36"/>
<circle cx="214.8" cy="262.7" r="3.1" fill="#398a36"/>
<circle cx="213" cy="265.9" r="3.1" fill="#398a36"/>
<circle cx="221.1" cy="265.9" r="3.1" fill="#398a36"/>
<circle cx="229.5" cy="260.5" r="3.1" fill="#398a36"/>
<circle cx="216.6" cy="272.7" r="3.1" fill="#398a36"/>
<circle cx="221.6" cy="276.6" r="3.1" fill="#398a36"/>
<circle cx="233.6" cy="274.3" r="3.1" fill="#398a36"/>
<circle cx="250.5" cy="275.2" r="3.1" fill="#398a36"/>
<circle cx="263" cy="298.2" r="3.1" fill="#398a36"/>
<text x="227.3" y="240.7" font-size="10.2" fill="#1c1c1c"><tspan font-style="italic">R</tspan>=−0.75</text>
<text x="195" y="224" font-size="12" fill="#1c1c1c">1476 cm<tspan font-size="8.2" dy="-6.0">−1</tspan></text>
<text transform="translate(161.2,270.3) rotate(-90)" font-size="10.2" text-anchor="middle" fill="#1c1c1c">cyoA</text>
<path d="M59.7,349 L59.7,431.2 L136,431.2" fill="none" stroke="#1a1a1a" stroke-width="1.1" stroke-linecap="square"/>
<line x1="56.300000000000004" y1="363.4" x2="59.7" y2="363.4" stroke="#1a1a1a" stroke-width="1.1"/>
<text x="53.900000000000006" y="367.09999999999997" font-size="10.6" text-anchor="end" fill="#1c1c1c" >4.5</text>
<line x1="56.300000000000004" y1="382.9" x2="59.7" y2="382.9" stroke="#1a1a1a" stroke-width="1.1"/>
<text x="53.900000000000006" y="386.59999999999997" font-size="10.6" text-anchor="end" fill="#1c1c1c" >4.0</text>
<line x1="56.300000000000004" y1="402.3" x2="59.7" y2="402.3" stroke="#1a1a1a" stroke-width="1.1"/>
<text x="53.900000000000006" y="406.0" font-size="10.6" text-anchor="end" fill="#1c1c1c" >3.5</text>
<line x1="56.300000000000004" y1="421.7" x2="59.7" y2="421.7" stroke="#1a1a1a" stroke-width="1.1"/>
<text x="53.900000000000006" y="425.4" font-size="10.6" text-anchor="end" fill="#1c1c1c" >3.0</text>
<line x1="62.2" y1="431.2" x2="62.2" y2="436.09999999999997" stroke="#1a1a1a" stroke-width="1.1"/>
<text transform="translate(68.80,442.20) rotate(-45)" font-size="10.6" text-anchor="end" fill="#1c1c1c">0.012</text>
<line x1="91.9" y1="431.2" x2="91.9" y2="436.09999999999997" stroke="#1a1a1a" stroke-width="1.1"/>
<text transform="translate(98.50,442.20) rotate(-45)" font-size="10.6" text-anchor="end" fill="#1c1c1c">0.016</text>
<line x1="121.6" y1="431.2" x2="121.6" y2="436.09999999999997" stroke="#1a1a1a" stroke-width="1.1"/>
<text transform="translate(128.20,442.20) rotate(-45)" font-size="10.6" text-anchor="end" fill="#1c1c1c">0.020</text>
<line x1="67.3" y1="367.3" x2="131.4" y2="409.3" stroke="#e8622a" stroke-width="1.35"/>
<circle cx="70" cy="378" r="3.1" fill="#e8622a"/>
<circle cx="77.5" cy="375.2" r="3.1" fill="#e8622a"/>
<circle cx="84.8" cy="377.5" r="3.1" fill="#e8622a"/>
<circle cx="92.3" cy="379.1" r="3.1" fill="#e8622a"/>
<circle cx="92.3" cy="383.6" r="3.1" fill="#e8622a"/>
<circle cx="92.3" cy="388.4" r="3.1" fill="#e8622a"/>
<circle cx="98.9" cy="385" r="3.1" fill="#e8622a"/>
<circle cx="114.3" cy="388.4" r="3.1" fill="#e8622a"/>
<circle cx="129.5" cy="420.7" r="3.1" fill="#e8622a"/>
<text x="91.4" y="361.7" font-size="10.2" fill="#1c1c1c"><tspan font-style="italic">R</tspan>=−0.85</text>
<text transform="translate(33.2,391.2) rotate(-90)" font-size="10.2" text-anchor="middle" fill="#1c1c1c">cyoD</text>
<path d="M187.5,349.5 L187.5,432.5 L268,432.5" fill="none" stroke="#1a1a1a" stroke-width="1.1" stroke-linecap="square"/>
<line x1="184.1" y1="364.5" x2="187.5" y2="364.5" stroke="#1a1a1a" stroke-width="1.1"/>
<text x="181.7" y="368.2" font-size="10.6" text-anchor="end" fill="#1c1c1c" >4.5</text>
<line x1="184.1" y1="384.2" x2="187.5" y2="384.2" stroke="#1a1a1a" stroke-width="1.1"/>
<text x="181.7" y="387.9" font-size="10.6" text-anchor="end" fill="#1c1c1c" >4.0</text>
<line x1="184.1" y1="403.8" x2="187.5" y2="403.8" stroke="#1a1a1a" stroke-width="1.1"/>
<text x="181.7" y="407.5" font-size="10.6" text-anchor="end" fill="#1c1c1c" >3.5</text>
<line x1="184.1" y1="423.4" x2="187.5" y2="423.4" stroke="#1a1a1a" stroke-width="1.1"/>
<text x="181.7" y="427.09999999999997" font-size="10.6" text-anchor="end" fill="#1c1c1c" >3.0</text>
<line x1="217.2" y1="432.5" x2="217.2" y2="437.4" stroke="#1a1a1a" stroke-width="1.1"/>
<text transform="translate(223.80,443.50) rotate(-45)" font-size="10.6" text-anchor="end" fill="#1c1c1c">0.030</text>
<line x1="251.3" y1="432.5" x2="251.3" y2="437.4" stroke="#1a1a1a" stroke-width="1.1"/>
<text transform="translate(257.90,443.50) rotate(-45)" font-size="10.6" text-anchor="end" fill="#1c1c1c">0.040</text>
<line x1="192" y1="369.1" x2="265.9" y2="407.7" stroke="#c2278b" stroke-width="1.35"/>
<circle cx="193.6" cy="377.5" r="3.1" fill="#c2278b"/>
<circle cx="212" cy="380.5" r="3.1" fill="#c2278b"/>
<circle cx="214.8" cy="379.1" r="3.1" fill="#c2278b"/>
<circle cx="221.6" cy="379.5" r="3.1" fill="#c2278b"/>
<circle cx="230" cy="378.2" r="3.1" fill="#c2278b"/>
<circle cx="216.6" cy="386.1" r="3.1" fill="#c2278b"/>
<circle cx="221.6" cy="389.5" r="3.1" fill="#c2278b"/>
<circle cx="233.2" cy="385.5" r="3.1" fill="#c2278b"/>
<circle cx="250.7" cy="390" r="3.1" fill="#c2278b"/>
<circle cx="262.5" cy="422.3" r="3.1" fill="#c2278b"/>
<text x="227.3" y="362.7" font-size="10.2" fill="#1c1c1c"><tspan font-style="italic">R</tspan>=−0.76</text>
<text transform="translate(161.6,392.5) rotate(-90)" font-size="10.2" text-anchor="middle" fill="#1c1c1c">cyoD</text>
<path d="M348.6,228.6 L348.6,310 L424,310" fill="none" stroke="#1a1a1a" stroke-width="1.1" stroke-linecap="square"/>
<line x1="345.20000000000005" y1="242.3" x2="348.6" y2="242.3" stroke="#1a1a1a" stroke-width="1.1"/>
<text x="342.8" y="246.0" font-size="10.6" text-anchor="end" fill="#1c1c1c" >3.5</text>
<line x1="345.20000000000005" y1="276.3" x2="348.6" y2="276.3" stroke="#1a1a1a" stroke-width="1.1"/>
<text x="342.8" y="280.0" font-size="10.6" text-anchor="end" fill="#1c1c1c" >3.0</text>
<line x1="345.20000000000005" y1="310" x2="348.6" y2="310" stroke="#1a1a1a" stroke-width="1.1"/>
<text x="342.8" y="313.7" font-size="10.6" text-anchor="end" fill="#1c1c1c" >2.5</text>
<line x1="367.8" y1="310" x2="367.8" y2="314.9" stroke="#1a1a1a" stroke-width="1.1"/>
<text transform="translate(375.20,320.60) rotate(-45)" font-size="10.6" text-anchor="end" fill="#1c1c1c">0.08</text>
<line x1="406.4" y1="310" x2="406.4" y2="314.9" stroke="#1a1a1a" stroke-width="1.1"/>
<text transform="translate(413.80,320.60) rotate(-45)" font-size="10.6" text-anchor="end" fill="#1c1c1c">0.12</text>
<line x1="356.4" y1="291" x2="422.8" y2="257.9" stroke="#1b69ae" stroke-width="1.35"/>
<circle cx="419.3" cy="250.9" r="3.1" fill="#1b69ae"/>
<circle cx="403.6" cy="255.2" r="3.1" fill="#1b69ae"/>
<circle cx="380.7" cy="264.1" r="3.1" fill="#1b69ae"/>
<circle cx="400.9" cy="265.7" r="3.1" fill="#1b69ae"/>
<circle cx="404.1" cy="269.1" r="3.1" fill="#1b69ae"/>
<circle cx="376.4" cy="273" r="3.1" fill="#1b69ae"/>
<circle cx="382.5" cy="276.6" r="3.1" fill="#1b69ae"/>
<circle cx="395.5" cy="280.2" r="3.1" fill="#1b69ae"/>
<circle cx="401.1" cy="278.6" r="3.1" fill="#1b69ae"/>
<circle cx="406.4" cy="277.3" r="3.1" fill="#1b69ae"/>
<circle cx="359.1" cy="299.1" r="3.1" fill="#1b69ae"/>
<text x="353" y="240.5" font-size="10.2" fill="#1c1c1c"><tspan font-style="italic">R</tspan>=0.69</text>
<text x="362.1" y="223.9" font-size="12" fill="#1c1c1c">752 cm<tspan font-size="8.2" dy="-6.0">−1</tspan></text>
<text transform="translate(322.1,272.7) rotate(-90)" font-size="10.2" text-anchor="middle" fill="#1c1c1c">folA</text>
<path d="M468.9,227 L468.9,308.7 L545.5,308.7" fill="none" stroke="#1a1a1a" stroke-width="1.1" stroke-linecap="square"/>
<line x1="465.5" y1="240.7" x2="468.9" y2="240.7" stroke="#1a1a1a" stroke-width="1.1"/>
<text x="463.09999999999997" y="244.39999999999998" font-size="10.6" text-anchor="end" fill="#1c1c1c" >3.5</text>
<line x1="465.5" y1="275.2" x2="468.9" y2="275.2" stroke="#1a1a1a" stroke-width="1.1"/>
<text x="463.09999999999997" y="278.9" font-size="10.6" text-anchor="end" fill="#1c1c1c" >3.0</text>
<line x1="465.5" y1="308.7" x2="468.9" y2="308.7" stroke="#1a1a1a" stroke-width="1.1"/>
<text x="463.09999999999997" y="312.4" font-size="10.6" text-anchor="end" fill="#1c1c1c" >2.5</text>
<line x1="497.7" y1="308.7" x2="497.7" y2="313.59999999999997" stroke="#1a1a1a" stroke-width="1.1"/>
<text transform="translate(505.10,319.30) rotate(-45)" font-size="10.6" text-anchor="end" fill="#1c1c1c">0.06</text>
<line x1="538" y1="308.7" x2="538" y2="313.59999999999997" stroke="#1a1a1a" stroke-width="1.1"/>
<text transform="translate(545.40,319.30) rotate(-45)" font-size="10.6" text-anchor="end" fill="#1c1c1c">0.08</text>
<line x1="472.7" y1="257.7" x2="535.7" y2="287.5" stroke="#398a36" stroke-width="1.35"/>
<circle cx="476.8" cy="250" r="3.1" fill="#398a36"/>
<circle cx="474.5" cy="268.6" r="3.1" fill="#398a36"/>
<circle cx="508.4" cy="253.9" r="3.1" fill="#398a36"/>
<circle cx="496.6" cy="263.4" r="3.1" fill="#398a36"/>
<circle cx="499.5" cy="263.4" r="3.1" fill="#398a36"/>
<circle cx="492" cy="277" r="3.1" fill="#398a36"/>
<circle cx="503.9" cy="276.6" r="3.1" fill="#398a36"/>
<circle cx="506.1" cy="279.5" r="3.1" fill="#398a36"/>
<circle cx="515.9" cy="272.3" r="3.1" fill="#398a36"/>
<circle cx="533.6" cy="297.3" r="3.1" fill="#398a36"/>
<text x="474.5" y="238.3" font-size="10.2" fill="#1c1c1c"><tspan font-style="italic">R</tspan>=−0.61</text>
<text x="482.1" y="224" font-size="12" fill="#1c1c1c">1450 cm<tspan font-size="8.2" dy="-6.0">−1</tspan></text>
<text transform="translate(444.4,271) rotate(-90)" font-size="10.2" text-anchor="middle" fill="#1c1c1c">folA</text>
<path d="M345.9,351 L345.9,433.3 L423.3,433.3" fill="none" stroke="#1a1a1a" stroke-width="1.1" stroke-linecap="square"/>
<line x1="342.5" y1="382.5" x2="345.9" y2="382.5" stroke="#1a1a1a" stroke-width="1.1"/>
<text x="340.09999999999997" y="386.2" font-size="10.6" text-anchor="end" fill="#1c1c1c" >3.0</text>
<line x1="342.5" y1="433.3" x2="345.9" y2="433.3" stroke="#1a1a1a" stroke-width="1.1"/>
<text x="340.09999999999997" y="437.0" font-size="10.6" text-anchor="end" fill="#1c1c1c" >2.5</text>
<line x1="365.1" y1="433.3" x2="365.1" y2="438.2" stroke="#1a1a1a" stroke-width="1.1"/>
<text transform="translate(372.50,443.90) rotate(-45)" font-size="10.6" text-anchor="end" fill="#1c1c1c">0.08</text>
<line x1="404.2" y1="433.3" x2="404.2" y2="438.2" stroke="#1a1a1a" stroke-width="1.1"/>
<text transform="translate(411.60,443.90) rotate(-45)" font-size="10.6" text-anchor="end" fill="#1c1c1c">0.12</text>
<line x1="354.5" y1="416.1" x2="417.7" y2="377.5" stroke="#e8622a" stroke-width="1.35"/>
<circle cx="417.7" cy="376.4" r="3.1" fill="#e8622a"/>
<circle cx="378.4" cy="382.3" r="3.1" fill="#e8622a"/>
<circle cx="399.5" cy="382" r="3.1" fill="#e8622a"/>
<circle cx="393.9" cy="385.7" r="3.1" fill="#e8622a"/>
<circle cx="399.1" cy="386.1" r="3.1" fill="#e8622a"/>
<circle cx="401.4" cy="390" r="3.1" fill="#e8622a"/>
<circle cx="404.8" cy="391.6" r="3.1" fill="#e8622a"/>
<circle cx="374.5" cy="397.5" r="3.1" fill="#e8622a"/>
<circle cx="380.2" cy="412.3" r="3.1" fill="#e8622a"/>
<circle cx="357.5" cy="424.8" r="3.1" fill="#e8622a"/>
<text x="350.7" y="363.4" font-size="10.2" fill="#1c1c1c"><tspan font-style="italic">R</tspan>=0.78</text>
<text transform="translate(319.6,395.7) rotate(-90)" font-size="10.2" text-anchor="middle" fill="#1c1c1c">folC</text>
<path d="M468.9,350.2 L468.9,433.4 L545.5,433.4" fill="none" stroke="#1a1a1a" stroke-width="1.1" stroke-linecap="square"/>
<line x1="465.5" y1="383" x2="468.9" y2="383" stroke="#1a1a1a" stroke-width="1.1"/>
<text x="463.09999999999997" y="386.7" font-size="10.6" text-anchor="end" fill="#1c1c1c" >3.0</text>
<line x1="465.5" y1="433.4" x2="468.9" y2="433.4" stroke="#1a1a1a" stroke-width="1.1"/>
<text x="463.09999999999997" y="437.09999999999997" font-size="10.6" text-anchor="end" fill="#1c1c1c" >2.5</text>
<line x1="497.7" y1="433.4" x2="497.7" y2="438.29999999999995" stroke="#1a1a1a" stroke-width="1.1"/>
<text transform="translate(505.10,444.00) rotate(-45)" font-size="10.6" text-anchor="end" fill="#1c1c1c">0.06</text>
<line x1="538" y1="433.4" x2="538" y2="438.29999999999995" stroke="#1a1a1a" stroke-width="1.1"/>
<text transform="translate(545.40,444.00) rotate(-45)" font-size="10.6" text-anchor="end" fill="#1c1c1c">0.08</text>
<line x1="472.7" y1="375.2" x2="536.4" y2="414.8" stroke="#c2278b" stroke-width="1.35"/>
<circle cx="476.8" cy="376.8" r="3.1" fill="#c2278b"/>
<circle cx="475" cy="388.2" r="3.1" fill="#c2278b"/>
<circle cx="492" cy="385.7" r="3.1" fill="#c2278b"/>
<circle cx="492" cy="390.9" r="3.1" fill="#c2278b"/>
<circle cx="498.4" cy="382.3" r="3.1" fill="#c2278b"/>
<circle cx="506.1" cy="385.2" r="3.1" fill="#c2278b"/>
<circle cx="508" cy="390.5" r="3.1" fill="#c2278b"/>
<circle cx="515.9" cy="397.7" r="3.1" fill="#c2278b"/>
<circle cx="503.9" cy="412.5" r="3.1" fill="#c2278b"/>
<circle cx="533.4" cy="425" r="3.1" fill="#c2278b"/>
<text x="474.5" y="362.7" font-size="10.2" fill="#1c1c1c"><tspan font-style="italic">R</tspan>=−0.73</text>
<text transform="translate(445,396) rotate(-90)" font-size="10.2" text-anchor="middle" fill="#1c1c1c">folC</text>
<text transform="translate(17.6,333.4) rotate(-90)" font-size="10.8" text-anchor="middle" fill="#1c1c1c">Normalized gene expression</text>
<text transform="translate(306.5,333.4) rotate(-90)" font-size="10.8" text-anchor="middle" fill="#1c1c1c">Normalized gene expression</text>
<text x="158.2" y="472.6" font-size="10.8" text-anchor="middle" fill="#1c1c1c" >Normalized intensity (a.u.)</text>
<text x="449" y="472.8" font-size="10.8" text-anchor="middle" fill="#1c1c1c" >Normalized intensity (a.u.)</text>
</svg>
</body></html>
